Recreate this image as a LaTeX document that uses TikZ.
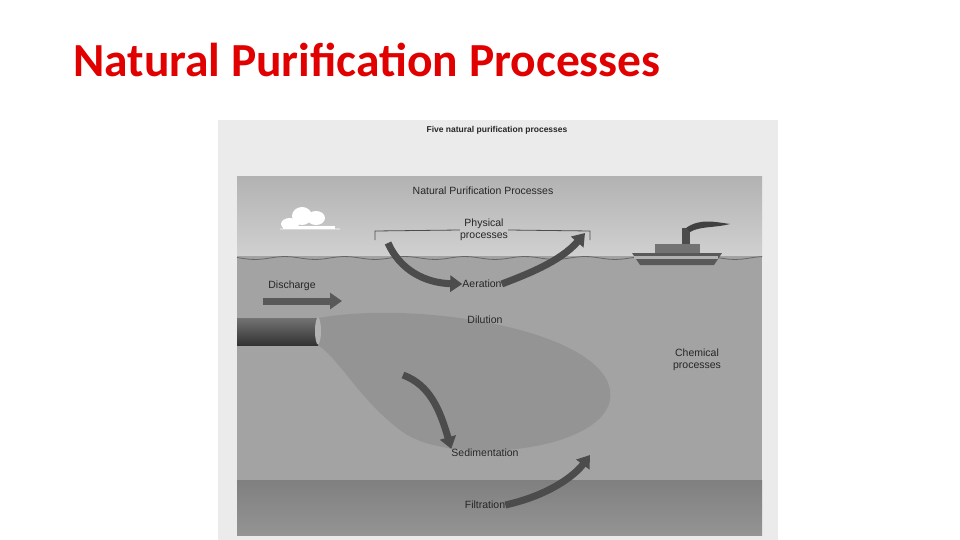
\documentclass[tikz,border=0pt]{standalone}
\usepackage{fontspec}
\setmainfont{Liberation Sans}
\newfontfamily\titlefont{Carlito}
\usetikzlibrary{arrows.meta}
\begin{document}
\begin{tikzpicture}[x=1pt,y=-1pt,
  lbl/.style={font=\fontsize{10.5}{11.5}\selectfont, text=black!85, align=center, inner sep=0pt},
  bigarrow/.style={line width=7pt, draw=black!70, -{Triangle[length=12pt,width=16pt]}}]
\useasboundingbox (0,0) rectangle (960,540);
\fill[white] (0,0) rectangle (960,540);
\node[anchor=west, inner sep=0pt, text={rgb,255:red,224;green,0;blue,0}, font=\titlefont\bfseries\fontsize{47.5}{52}\selectfont] (title) at (73,60) {Natural Purification Processes};
% panel
\fill[black!8] (218,120) rectangle (778,540);
\node[lbl, font=\bfseries\fontsize{8.5}{9}\selectfont] (five) at (497,130) {Five natural purification processes};
% sky
\shade[top color=black!30, bottom color=black!18] (237,177) rectangle (762,258);
% sea
\fill[black!36] (237,256) rectangle (762,480);
\draw[black!60, line width=0.8pt] plot[domain=237:762, samples=80] (\x,{258+1.5*sin(\x*6)});
% plume
\fill[black!42] (318,318) .. controls (420,300) and (600,330) .. (610,390) .. controls (620,450) and (450,470) .. (400,430) .. controls (360,400) and (340,360) .. (318,345) -- cycle;
% bottom
\shade[top color=black!50, bottom color=black!42] (237,480) rectangle (762,535);
% pipe
\shade[top color=black!55, bottom color=black!80] (237,318) rectangle (318,345);
\fill[black!30] (318,331) ellipse (3 and 13.5);
% cloud
\fill[white] (290,224) ellipse (9 and 6);
\fill[white] (302,216) ellipse (10 and 9);
\fill[white] (316,218) ellipse (9 and 7);
\fill[black!15] (280,228) rectangle (340,230);
\fill[white] (283,226) rectangle (335,229);
% ship
\fill[black!65] (632,253) -- (722,253) -- (714,265) -- (640,265) -- cycle;
\fill[black!30] (634,256) rectangle (718,259);
\fill[black!55] (655,244) rectangle (700,253);
\fill[black!70] (682,228) rectangle (690,244);
\fill[black!75] (686,228) .. controls (700,218) and (715,222) .. (730,224) .. controls (715,228) and (700,226) .. (690,232) -- cycle;
% labels
\node[lbl] (npp) at (483,191) {Natural Purification Processes};
\node[lbl] (phys) at (484,230) {Physical\\processes};
\node[lbl] (aer) at (482,284) {Aeration};
\node[lbl] (dil) at (485,320) {Dilution};
\node[lbl] (dis) at (292,286) {Discharge};
\node[lbl] (chem) at (697,360) {Chemical\\processes};
\node[lbl] (sed) at (485,453) {Sedimentation};
\node[lbl] (fil) at (485,505) {Filtration};
% bracket
\coordinate (bl) at (375,231); \coordinate (br) at (590,231);
\draw[black!70, line width=0.8pt] (phys.west) -- (bl) -- ++(0,9);
\draw[black!70, line width=0.8pt] (phys.east) -- (br) -- ++(0,9);
% arrows
\coordinate (a1) at (388,243);
\draw[bigarrow] (a1) .. controls (400,270) and (425,283) .. (aer.west);
\coordinate (a2) at (585,233);
\draw[bigarrow] (aer.east) .. controls (525,275) and (560,262) .. (a2);
\coordinate (d0) at (263,301); \coordinate (d1) at (342,301);
\draw[bigarrow, draw=black!65] (d0) -- (d1);
\coordinate (s0) at (403,375);
\draw[bigarrow] (s0) .. controls (430,385) and (440,410) .. (sed.north west);
\coordinate (f1) at (590,455);
\draw[bigarrow] (fil.east) .. controls (550,495) and (575,475) .. (f1);
\end{tikzpicture}
\end{document}
